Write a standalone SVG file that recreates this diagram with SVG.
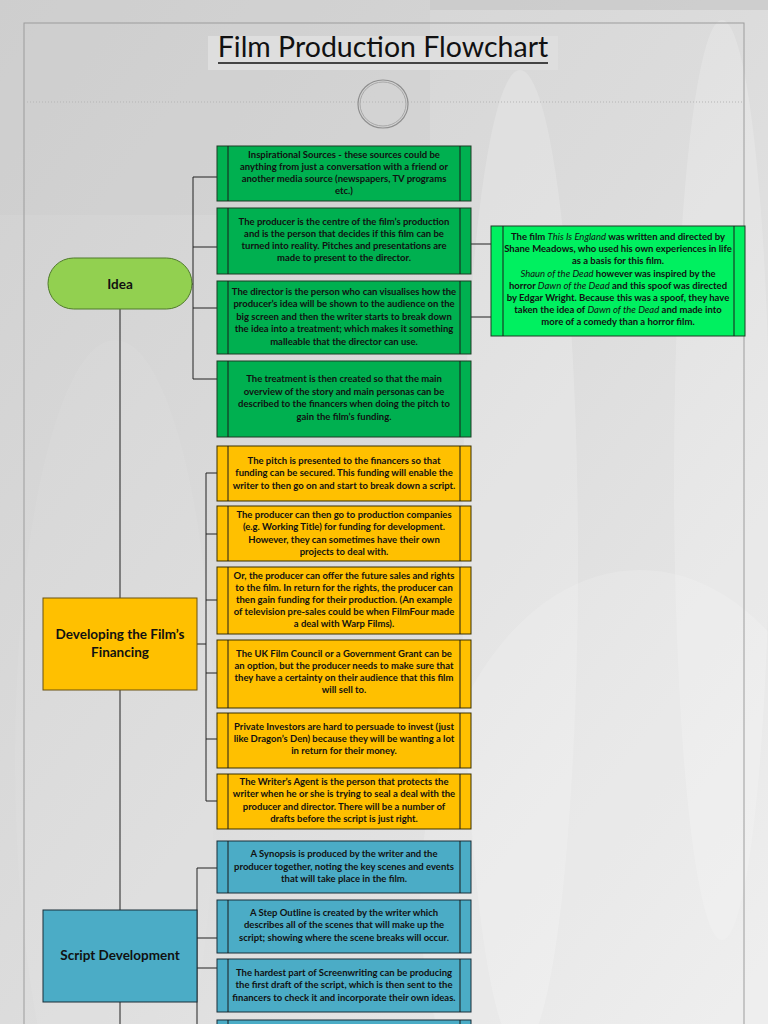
<svg xmlns="http://www.w3.org/2000/svg" width="768" height="1024" viewBox="0 0 768 1024">
<defs>
<linearGradient id="bg" x1="0" y1="0" x2="1" y2="1">
<stop offset="0" stop-color="#d0d0d0"/>
<stop offset="0.5" stop-color="#dcdcdc"/>
<stop offset="1" stop-color="#ececec"/>
</linearGradient>
<style>
.t{font-family:Lato,"Liberation Sans",sans-serif;font-size:9.5px;font-weight:bold;text-anchor:middle;fill:#111}
.sd .t{font-size:9.5px}
.h{font-family:Lato,"Liberation Sans",sans-serif;font-size:13.5px;font-weight:bold;text-anchor:middle;fill:#111}
.g{fill:#00b050;stroke:#1d3d24;stroke-width:1}
.s{fill:#00f060;stroke:#1d3d24;stroke-width:1}
.y{fill:#ffc000;stroke:#3a3000;stroke-width:1}
.b{fill:#4bacc6;stroke:#1a2f38;stroke-width:1}
.il{stroke:#1a1a1a;stroke-width:1}
.c{stroke:#222;stroke-width:1;fill:none}
.it{font-style:italic;font-weight:normal}
</style>
</defs>
<rect width="768" height="1024" fill="url(#bg)"/>
<rect x="0" y="0" width="430" height="215" fill="#cccccc" opacity="0.35"/>
<rect x="430" y="0" width="338" height="10" fill="#c4c4c4" opacity="0.6"/>
<ellipse cx="520" cy="560" rx="58" ry="490" fill="#fff" opacity="0.18"/>
<ellipse cx="722" cy="480" rx="48" ry="460" fill="#fff" opacity="0.18"/>
<ellipse cx="115" cy="760" rx="100" ry="420" fill="#fff" opacity="0.06"/>
<ellipse cx="640" cy="900" rx="220" ry="330" fill="#fff" opacity="0.15"/>
<rect x="24" y="23" width="720" height="1020" fill="none" stroke="#9c9c9c" stroke-width="1"/>
<line x1="24" y1="102" x2="744" y2="102" stroke="#b5b5b5" stroke-width="1" stroke-dasharray="1 2"/>
<rect x="208" y="36" width="350" height="34" fill="#dedede"/>
<text x="383" y="57" font-family="Lato,'Liberation Sans',sans-serif" font-size="28.5" text-anchor="middle" fill="#111">Film Production Flowchart</text>
<line x1="218" y1="63" x2="548" y2="63" stroke="#111" stroke-width="1.5"/>
<ellipse cx="383" cy="104" rx="25" ry="24" fill="none" stroke="#8f8f8f" stroke-width="1.2"/>
<ellipse cx="383" cy="104" rx="23" ry="22" fill="none" stroke="#a8a8a8" stroke-width="1"/>

<g id="connectors">
<line class="c" x1="120" y1="309" x2="120" y2="598"/>
<line class="c" x1="120" y1="690" x2="120" y2="910"/>
<line class="c" x1="120" y1="1002" x2="120" y2="1024"/>
<line class="c" x1="192" y1="284" x2="193" y2="284"/>
<polyline class="c" points="217,177 193,177 193,379 217,379"/>
<line class="c" x1="193" y1="247" x2="217" y2="247"/>
<line class="c" x1="193" y1="308" x2="217" y2="308"/>
<line class="c" x1="471" y1="244" x2="491" y2="244"/>
<line class="c" x1="471" y1="317" x2="491" y2="317"/>
<line class="c" x1="197" y1="644" x2="206" y2="644"/>
<polyline class="c" points="217,473 206,473 206,801 217,801"/>
<line class="c" x1="206" y1="534" x2="217" y2="534"/>
<line class="c" x1="206" y1="600" x2="217" y2="600"/>
<line class="c" x1="206" y1="673" x2="217" y2="673"/>
<line class="c" x1="206" y1="739" x2="217" y2="739"/>
<polyline class="c" points="217,868 197,868 197,1024"/>
<line class="c" x1="197" y1="938" x2="217" y2="938"/>
<line class="c" x1="197" y1="968" x2="217" y2="968"/>
</g>

<g id="idea">
<rect x="48" y="258" width="144" height="51" rx="25.5" fill="#92d050" stroke="#4f7a2a" stroke-width="1"/>
<text class="h" x="120" y="289" font-size="14.5">Idea</text>
</g>

<g id="green1">
<rect class="g" x="217" y="146" width="254" height="55"/>
<line class="il" x1="228" y1="146" x2="228" y2="201"/><line class="il" x1="460" y1="146" x2="460" y2="201"/>
<text class="t" x="344" y="158">Inspirational Sources - these sources could be</text>
<text class="t" x="344" y="170">anything from just a conversation with a friend or</text>
<text class="t" x="344" y="182">another media source (newspapers, TV programs</text>
<text class="t" x="344" y="194">etc.)</text>
</g>
<g id="green2">
<rect class="g" x="217" y="208" width="254" height="66"/>
<line class="il" x1="228" y1="208" x2="228" y2="274"/><line class="il" x1="460" y1="208" x2="460" y2="274"/>
<text class="t" x="344" y="225">The producer is the centre of the film’s production</text>
<text class="t" x="344" y="237">and is the person that decides if this film can be</text>
<text class="t" x="344" y="249">turned into reality. Pitches and presentations are</text>
<text class="t" x="344" y="261">made to present to the director.</text>
</g>
<g id="green3">
<rect class="g" x="217" y="281" width="254" height="73"/>
<line class="il" x1="228" y1="281" x2="228" y2="354"/><line class="il" x1="460" y1="281" x2="460" y2="354"/>
<text class="t" x="344" y="295">The director is the person who can visualises how the</text>
<text class="t" x="344" y="307">producer’s idea will be shown to the audience on the</text>
<text class="t" x="344" y="320">big screen and then the writer starts to break down</text>
<text class="t" x="344" y="332">the idea into a treatment; which makes it something</text>
<text class="t" x="344" y="345">malleable that the director can use.</text>
</g>
<g id="green4">
<rect class="g" x="217" y="361" width="254" height="76"/>
<line class="il" x1="228" y1="361" x2="228" y2="437"/><line class="il" x1="460" y1="361" x2="460" y2="437"/>
<text class="t" x="344" y="382">The treatment is then created so that the main</text>
<text class="t" x="344" y="395">overview of the story and main personas can be</text>
<text class="t" x="344" y="407">described to the financers when doing the pitch to</text>
<text class="t" x="344" y="420">gain the film’s funding.</text>
</g>
<g id="side" class="sd">
<rect class="s" x="491" y="226" width="254" height="110"/>
<line class="il" x1="503" y1="226" x2="503" y2="336"/><line class="il" x1="734" y1="226" x2="734" y2="336"/>
<text class="t" x="618" y="240">The film <tspan class="it">This Is England</tspan> was written and directed by</text>
<text class="t" x="618" y="252">Shane Meadows, who used his own experiences in life</text>
<text class="t" x="618" y="264">as a basis for this film.</text>
<text class="t" x="618" y="277"><tspan class="it">Shaun of the Dead</tspan> however was inspired by the</text>
<text class="t" x="618" y="289">horror <tspan class="it">Dawn of the Dead</tspan> and this spoof was directed</text>
<text class="t" x="618" y="301">by Edgar Wright. Because this was a spoof, they have</text>
<text class="t" x="618" y="313">taken the idea of <tspan class="it">Dawn of the Dead</tspan> and made into</text>
<text class="t" x="618" y="325">more of a comedy than a horror film.</text>
</g>

<g id="financing">
<rect x="43" y="598" width="154" height="92" fill="#ffc000" stroke="#6b5310" stroke-width="1"/>
<text class="h" x="120" y="639">Developing the Film’s</text>
<text class="h" x="120" y="657">Financing</text>
</g>
<g id="yellow1">
<rect class="y" x="217" y="446" width="254" height="55"/>
<line class="il" x1="228" y1="446" x2="228" y2="501"/><line class="il" x1="460" y1="446" x2="460" y2="501"/>
<text class="t" x="344" y="464">The pitch is presented to the financers so that</text>
<text class="t" x="344" y="476">funding can be secured. This funding will enable the</text>
<text class="t" x="344" y="489">writer to then go on and start to break down a script.</text>
</g>
<g id="yellow2">
<rect class="y" x="217" y="506" width="254" height="55"/>
<line class="il" x1="228" y1="506" x2="228" y2="561"/><line class="il" x1="460" y1="506" x2="460" y2="561"/>
<text class="t" x="344" y="518">The producer can then go to production companies</text>
<text class="t" x="344" y="530">(e.g. Working Title)  for funding for development.</text>
<text class="t" x="344" y="543">However, they can sometimes have their own</text>
<text class="t" x="344" y="555">projects to deal with.</text>
</g>
<g id="yellow3">
<rect class="y" x="217" y="567" width="254" height="67"/>
<line class="il" x1="228" y1="567" x2="228" y2="634"/><line class="il" x1="460" y1="567" x2="460" y2="634"/>
<text class="t" x="344" y="579">Or, the producer can offer the future sales and rights</text>
<text class="t" x="344" y="591">to the film. In return for the rights, the producer can</text>
<text class="t" x="344" y="603">then gain funding for their production. (An example</text>
<text class="t" x="344" y="615">of television pre-sales could be when FilmFour made</text>
<text class="t" x="344" y="627">a deal with Warp Films).</text>
</g>
<g id="yellow4">
<rect class="y" x="217" y="640" width="254" height="68"/>
<line class="il" x1="228" y1="640" x2="228" y2="708"/><line class="il" x1="460" y1="640" x2="460" y2="708"/>
<text class="t" x="344" y="657">The UK Film Council or a Government Grant can be</text>
<text class="t" x="344" y="669">an option, but the producer needs to make sure that</text>
<text class="t" x="344" y="681">they have a certainty on their audience that this film</text>
<text class="t" x="344" y="693">will sell to.</text>
</g>
<g id="yellow5">
<rect class="y" x="217" y="713" width="254" height="55"/>
<line class="il" x1="228" y1="713" x2="228" y2="768"/><line class="il" x1="460" y1="713" x2="460" y2="768"/>
<text class="t" x="344" y="730">Private Investors are hard to persuade to invest (just</text>
<text class="t" x="344" y="742">like Dragon’s Den) because they will be wanting a lot</text>
<text class="t" x="344" y="754">in return for their money.</text>
</g>
<g id="yellow6">
<rect class="y" x="217" y="774" width="254" height="55"/>
<line class="il" x1="228" y1="774" x2="228" y2="829"/><line class="il" x1="460" y1="774" x2="460" y2="829"/>
<text class="t" x="344" y="785">The Writer’s Agent is the person that protects the</text>
<text class="t" x="344" y="797">writer when he or she is trying to seal a deal with the</text>
<text class="t" x="344" y="810">producer and director. There will be a number of</text>
<text class="t" x="344" y="822">drafts before the script is just right.</text>
</g>

<g id="script">
<rect x="43" y="910" width="154" height="92" fill="#4bacc6" stroke="#1a2f38" stroke-width="1"/>
<text class="h" x="120" y="960">Script Development</text>
</g>
<g id="blue1">
<rect class="b" x="217" y="841" width="254" height="52"/>
<line class="il" x1="228" y1="841" x2="228" y2="893"/><line class="il" x1="460" y1="841" x2="460" y2="893"/>
<text class="t" x="344" y="857">A Synopsis is produced by the writer and the</text>
<text class="t" x="344" y="870">producer together, noting the key scenes and events</text>
<text class="t" x="344" y="882">that will take place in the film.</text>
</g>
<g id="blue2">
<rect class="b" x="217" y="900" width="254" height="53"/>
<line class="il" x1="228" y1="900" x2="228" y2="953"/><line class="il" x1="460" y1="900" x2="460" y2="953"/>
<text class="t" x="344" y="916">A Step Outline is created by the writer which</text>
<text class="t" x="344" y="928">describes all of the scenes that will make up the</text>
<text class="t" x="344" y="941">script; showing where the scene breaks will occur.</text>
</g>
<g id="blue3">
<rect class="b" x="217" y="959" width="254" height="53"/>
<line class="il" x1="228" y1="959" x2="228" y2="1012"/><line class="il" x1="460" y1="959" x2="460" y2="1012"/>
<text class="t" x="344" y="976">The hardest part of Screenwriting can be producing</text>
<text class="t" x="344" y="988">the first draft of the script, which is then sent to the</text>
<text class="t" x="344" y="1001">financers to check it and incorporate their own ideas.</text>
</g>
<g id="blue4">
<rect class="b" x="217" y="1020" width="254" height="40"/>
<line class="il" x1="228" y1="1020" x2="228" y2="1060"/><line class="il" x1="460" y1="1020" x2="460" y2="1060"/>
</g>
</svg>
